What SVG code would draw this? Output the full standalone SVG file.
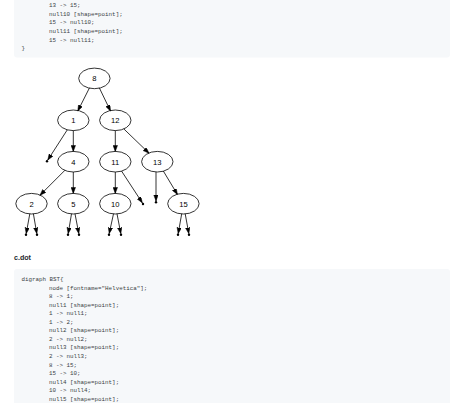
<svg xmlns="http://www.w3.org/2000/svg" width="474" height="403" viewBox="0 0 474 403">
<style>
.code{font-family:"Liberation Mono","DejaVu Sans Mono",monospace;font-size:5.85px;fill:#3a3f44;white-space:pre}
.blk{fill:#f6f8fa}
.nd ellipse{fill:none;stroke:#000;stroke-width:0.8}
.nd text{font-family:"Liberation Sans",Arial,sans-serif;font-size:7.6px;fill:#000;text-anchor:middle}
.pt{fill:#000}
#edges line{stroke:#000;stroke-width:0.8;marker-end:url(#arr)}
.h{font-family:"Liberation Sans",Arial,sans-serif;font-size:7.1px;font-weight:bold;fill:#24292e}
</style>
<defs>
<marker id="arr" markerUnits="userSpaceOnUse" markerWidth="7" markerHeight="5" refX="6" refY="2.2" orient="auto">
<path d="M0,0 L6,2.2 L0,4.4 z" fill="#000" stroke="#000" stroke-width="0.5"/>
</marker>
</defs>
<rect width="474" height="403" fill="#fff"/>
<g id="code1">
<rect class="blk" x="14" y="-10" width="436" height="67.5" rx="3"/>
<text class="code" x="49" y="7.2">13 -&gt; 15;</text>
<text class="code" x="49" y="15.8">null10 [shape=point];</text>
<text class="code" x="49" y="24.4">15 -&gt; null10;</text>
<text class="code" x="49" y="33">null11 [shape=point];</text>
<text class="code" x="49" y="41.6">15 -&gt; null11;</text>
<text class="code" x="21.5" y="50.2">}</text>
</g>
<g id="edges">
<line x1="89.5" y1="87.8" x2="77.8" y2="111"/>
<line x1="99.3" y1="87.8" x2="110.5" y2="111"/>
<line x1="67.3" y1="129.8" x2="47.8" y2="160"/>
<line x1="73.3" y1="130.6" x2="73.3" y2="151.4"/>
<line x1="115.3" y1="130.6" x2="115.3" y2="151.4"/>
<line x1="123.8" y1="128.9" x2="149" y2="153.2"/>
<line x1="65" y1="170.2" x2="40" y2="195.2"/>
<line x1="73.3" y1="172" x2="73.3" y2="193.4"/>
<line x1="115.3" y1="172" x2="115.3" y2="193.4"/>
<line x1="121.5" y1="171" x2="142.3" y2="202.8"/>
<line x1="156" y1="172" x2="156" y2="201"/>
<line x1="163.3" y1="171" x2="177.4" y2="194.4"/>
<line x1="29.8" y1="213.8" x2="26.2" y2="233.6"/>
<line x1="33.4" y1="213.8" x2="36.8" y2="233.6"/>
<line x1="71.5" y1="213.8" x2="68.2" y2="233.6"/>
<line x1="75" y1="213.8" x2="78.8" y2="233.6"/>
<line x1="113.5" y1="213.8" x2="109.2" y2="233.6"/>
<line x1="117" y1="213.8" x2="120.8" y2="233.6"/>
<line x1="181.7" y1="213.8" x2="178.2" y2="233.6"/>
<line x1="185.2" y1="213.8" x2="188.8" y2="233.6"/>
</g>
<g id="n8" class="nd"><ellipse cx="94.4" cy="78.4" rx="15.7" ry="10.3"/><text x="94.4" y="81.2">8</text></g>
<g id="n1" class="nd"><ellipse cx="73.3" cy="120.3" rx="15.7" ry="10.3"/><text x="73.3" y="123.1">1</text></g>
<g id="n12" class="nd"><ellipse cx="115.3" cy="120.3" rx="15.7" ry="10.3"/><text x="115.3" y="123.1">12</text></g>
<g id="n4" class="nd"><ellipse cx="73.3" cy="161.7" rx="15.7" ry="10.3"/><text x="73.3" y="164.5">4</text></g>
<g id="n11" class="nd"><ellipse cx="115.3" cy="161.7" rx="15.7" ry="10.3"/><text x="115.3" y="164.5">11</text></g>
<g id="n13" class="nd"><ellipse cx="157.3" cy="161.7" rx="15.7" ry="10.3"/><text x="157.3" y="164.5">13</text></g>
<g id="n2" class="nd"><ellipse cx="31.5" cy="203.7" rx="15.7" ry="10.3"/><text x="31.5" y="206.5">2</text></g>
<g id="n5" class="nd"><ellipse cx="73.3" cy="203.7" rx="15.7" ry="10.3"/><text x="73.3" y="206.5">5</text></g>
<g id="n10" class="nd"><ellipse cx="115.3" cy="203.7" rx="15.7" ry="10.3"/><text x="115.3" y="206.5">10</text></g>
<g id="n15" class="nd"><ellipse cx="183.4" cy="203.7" rx="15.7" ry="10.3"/><text x="183.4" y="206.5">15</text></g>
<g id="p1"><circle class="pt" cx="47" cy="161.2" r="1.2"/></g>
<g id="p11"><circle class="pt" cx="143" cy="204" r="1.2"/></g>
<g id="p13"><circle class="pt" cx="156" cy="202.2" r="1.2"/></g>
<g id="p2a"><circle class="pt" cx="26" cy="234.8" r="1.2"/></g>
<g id="p2b"><circle class="pt" cx="37" cy="234.8" r="1.2"/></g>
<g id="p5a"><circle class="pt" cx="68" cy="234.8" r="1.2"/></g>
<g id="p5b"><circle class="pt" cx="79" cy="234.8" r="1.2"/></g>
<g id="p10a"><circle class="pt" cx="109" cy="234.8" r="1.2"/></g>
<g id="p10b"><circle class="pt" cx="121" cy="234.8" r="1.2"/></g>
<g id="p15a"><circle class="pt" cx="178" cy="234.8" r="1.2"/></g>
<g id="p15b"><circle class="pt" cx="189" cy="234.8" r="1.2"/></g>
<text class="h" x="14" y="259.5">c.dot</text>
<g id="code2">
<rect class="blk" x="14" y="269" width="436" height="150" rx="3"/>
<text class="code" x="21.5" y="281">digraph BST{</text>
<text class="code" x="49" y="289.6">node [fontname="Helvetica"];</text>
<text class="code" x="49" y="298.1">8 -&gt; 1;</text>
<text class="code" x="49" y="306.7">null1 [shape=point];</text>
<text class="code" x="49" y="315.2">1 -&gt; null1;</text>
<text class="code" x="49" y="323.8">1 -&gt; 2;</text>
<text class="code" x="49" y="332.3">null2 [shape=point];</text>
<text class="code" x="49" y="340.9">2 -&gt; null2;</text>
<text class="code" x="49" y="349.4">null3 [shape=point];</text>
<text class="code" x="49" y="358">2 -&gt; null3;</text>
<text class="code" x="49" y="366.5">8 -&gt; 15;</text>
<text class="code" x="49" y="375.1">15 -&gt; 10;</text>
<text class="code" x="49" y="383.6">null4 [shape=point];</text>
<text class="code" x="49" y="392.2">10 -&gt; null4;</text>
<text class="code" x="49" y="400.7">null5 [shape=point];</text>
</g>
</svg>
